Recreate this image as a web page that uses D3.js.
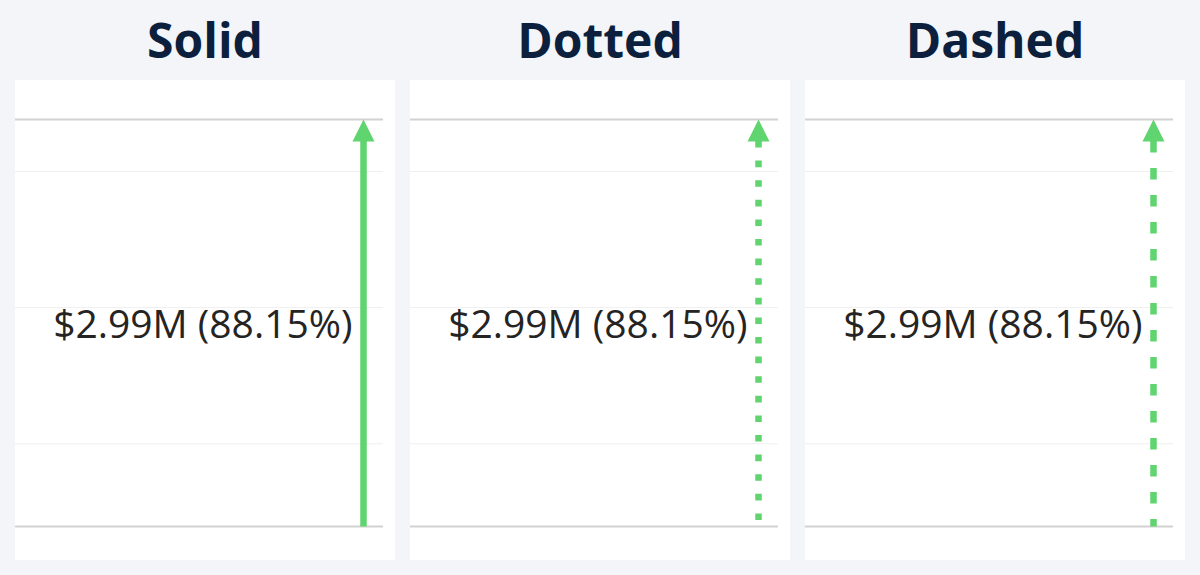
<!DOCTYPE html>
<html>
<head>
<meta charset="utf-8">
<script src="https://cdn.jsdelivr.net/npm/d3@7"></script>
<style>
  html, body { margin: 0; padding: 0; background: #f3f5f9; }
  svg { display: block; }
</style>
</head>
<body>
<svg id="chart" width="1200" height="575"></svg>
<script>
// ---- Data ----
const panelTitles = ["Solid", "Dotted", "Dashed"];
const lineStyles = ["solid", "dotted", "dashed"];
const startValue = 3392000;     // base value before change
const changeValue = 2990000;    // change amount
const changePct = 88.15;        // change as % of start
const gridTicks = [4000000, 5000000, 6000000];
const categories = ["Change"];

// ---- Layout ----
const W = 1200, H = 575;
const panelW = 380, panelTop = 80, panelBottom = 560, panelGap = 15, outerLeft = 15;
const plotTop = 119.5, plotBottom = 526.5, plotW = 368;

const svg = d3.select("#chart");
svg.append("rect").attr("width", W).attr("height", H).attr("fill", "#f3f5f9");

const panelX = d3.scaleBand()
  .domain(panelTitles)
  .range([outerLeft, outerLeft + 3 * panelW + 2 * panelGap])
  .paddingInner(panelGap / (panelW + panelGap));

const y = d3.scaleLinear()
  .domain([startValue, startValue + changeValue])
  .range([plotBottom, plotTop]);

const x = d3.scalePoint()
  .domain(categories)
  .range([348.5, 348.5]);

const green = "#5fd46f";
const dashMap = { solid: null, dotted: "6.6,13", dashed: "11.6,15.4" };
const fmt = v => "$" + (v / 1e6).toFixed(2) + "M (" + changePct.toFixed(2) + "%)";

panelTitles.forEach((title, i) => {
  const px = panelX(title);
  const g = svg.append("g").attr("transform", `translate(${px},0)`);

  // title
  g.append("text")
    .attr("x", panelW / 2).attr("y", 58)
    .attr("text-anchor", "middle")
    .attr("font-family", "'Open Sans', sans-serif")
    .attr("font-weight", 700)
    .attr("font-size", 48)
    .attr("fill", "#0c1f3d")
    .text(title);

  // panel
  g.append("rect")
    .attr("x", 0).attr("y", panelTop)
    .attr("width", panelW).attr("height", panelBottom - panelTop)
    .attr("fill", "#ffffff");

  // light gridlines
  g.selectAll("line.grid").data(gridTicks).join("line")
    .attr("class", "grid")
    .attr("x1", 0).attr("x2", plotW)
    .attr("y1", d => y(d)).attr("y2", d => y(d))
    .attr("stroke", "#efefef").attr("stroke-width", 1);

  // reference lines at start and end value
  g.selectAll("line.ref").data([startValue, startValue + changeValue]).join("line")
    .attr("class", "ref")
    .attr("x1", 0).attr("x2", plotW)
    .attr("y1", d => y(d)).attr("y2", d => y(d))
    .attr("stroke", "#d2d2d2").attr("stroke-width", 2);

  const ax = x(categories[0]);
  const headH = 22, headW = 22;
  const yTop = y(startValue + changeValue);
  const yBot = y(startValue);

  // shaft
  const shaft = g.append("line")
    .attr("x1", ax).attr("x2", ax)
    .attr("y1", yTop + headH - 0.5).attr("y2", yBot)
    .attr("stroke", green).attr("stroke-width", 6.5);
  if (dashMap[lineStyles[i]]) shaft.attr("stroke-dasharray", dashMap[lineStyles[i]]);

  // arrow head
  g.append("path")
    .attr("d", `M${ax},${yTop} L${ax + headW / 2},${yTop + headH} L${ax - headW / 2},${yTop + headH} Z`)
    .attr("fill", green);

  // label
  g.append("text")
    .attr("x", ax - 11)
    .attr("y", (yTop + yBot) / 2)
    .attr("dy", "0.377em")
    .attr("text-anchor", "end")
    .attr("font-family", "'Open Sans', sans-serif")
    .attr("font-size", 39)
    .attr("fill", "#252423")
    .text(fmt(changeValue));
});
</script>
</body>
</html>
